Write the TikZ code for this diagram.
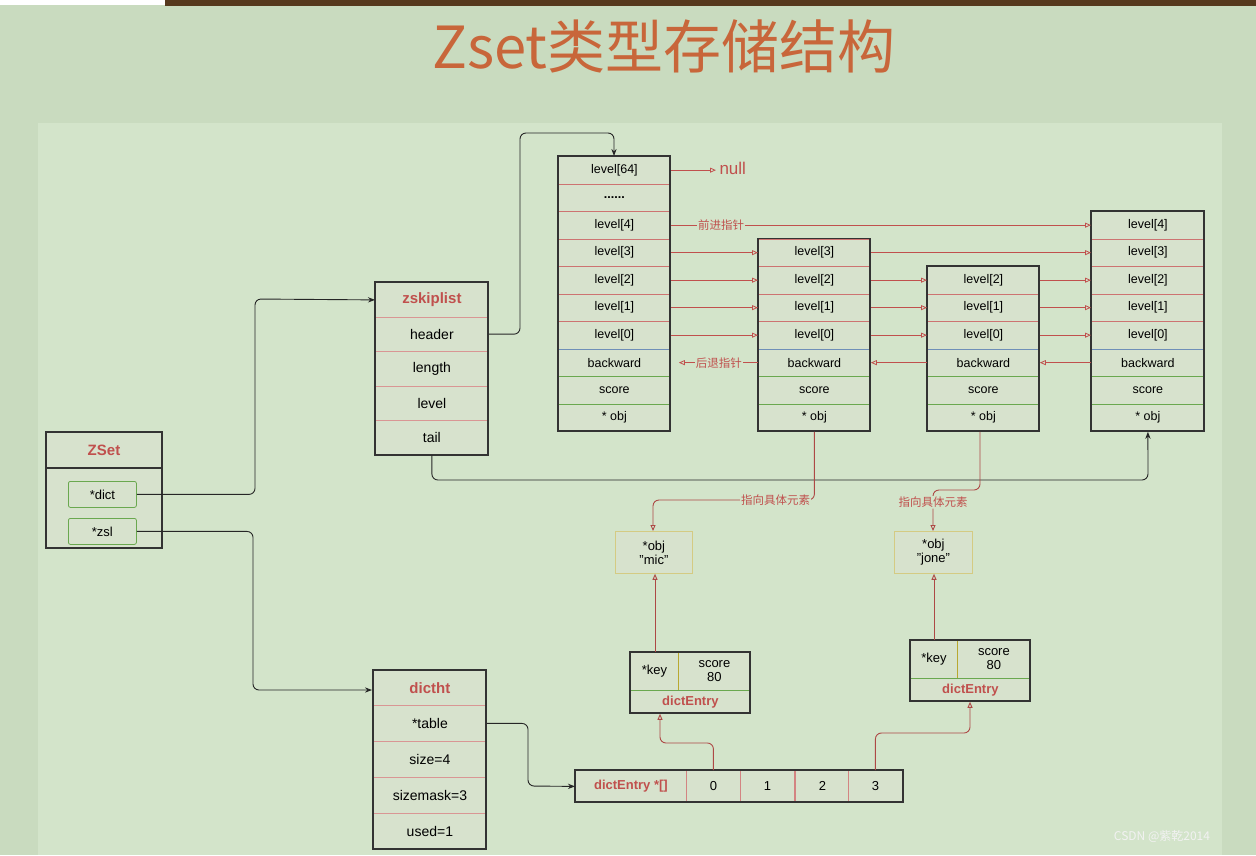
\documentclass[tikz,border=0pt]{standalone}
\usepackage{fontspec}
\setmainfont{Liberation Sans}
\newfontfamily\cjk{Noto Sans CJK SC}
\usetikzlibrary{arrows.meta, positioning, calc}
\definecolor{bgout}{HTML}{C9DBBF}
\definecolor{bgin}{HTML}{D3E4CA}
\definecolor{cellfill}{HTML}{D7E2CD}
\definecolor{redline}{HTML}{C0504D}
\definecolor{redtext}{HTML}{C0504D}
\definecolor{blueline}{HTML}{6F8FB8}
\definecolor{greenline}{HTML}{6AA84F}
\definecolor{titleor}{HTML}{C8663A}
\definecolor{yelline}{HTML}{B8A830}
\begin{document}
\begin{tikzpicture}[x=1pt, y=-1pt, >=Stealth, font=\fontsize{12.5}{14}\selectfont]
  \tikzset{
    cell/.style={draw=#1, line width=0.8pt, fill=cellfill, anchor=north west, inner sep=0pt, align=center},
    lvl/.style={cell=redline!80, minimum width=112pt, minimum height=27.5pt},
    bwd/.style={cell=blueline, minimum width=112pt, minimum height=27.5pt},
    grn/.style={cell=greenline, minimum width=112pt, minimum height=27.5pt},
    fld/.style={cell=redline!60, minimum width=113pt, minimum height=35pt, font=\fontsize{14}{16}\selectfont},
    ttl/.style={cell=greenline, minimum width=113pt, minimum height=35pt, font=\fontsize{15}{17}\selectfont\bfseries, text=redtext},
    fwd/.style={->, draw=redline, line width=0.8pt, -{Triangle[open, length=6pt, width=5pt]}},
    link/.style={->, draw=black!85, line width=0.9pt, rounded corners=6pt},
    rlink/.style={draw=redline!90!black, line width=0.9pt, rounded corners=6pt, -{Triangle[open, length=6pt, width=5pt]}},
    lbl/.style={text=redtext, font=\cjk\fontsize{11.5}{13}\selectfont, fill=bgin, inner sep=1pt},
    frame/.style={draw=black!80, line width=1.1pt}
  }
  % background
  \fill[bgout] (0,0) rectangle (1256,855);
  \fill[bgin] (38,123) rectangle (1222,855);
  \fill[black!55!brown] (165,0) rectangle (1256,6);
  \fill[white] (0,0) rectangle (165,5);
  \node[text=titleor, font=\cjk\fontsize{58}{62}\selectfont] (title) at (664,46) {Zset类型存储结构};

  % ZSet
  \draw[frame, fill=cellfill] (46,432) rectangle (162,548);
  \draw[frame] (46,468) -- (162,468);
  \node[text=redtext, font=\fontsize{15}{17}\selectfont\bfseries] (zset) at (104,450) {ZSet};
  \node[cell=greenline, rounded corners=2pt, minimum width=68pt, minimum height=26pt, font=\fontsize{13}{15}\selectfont] (dict) at (68,481) {*dict};
  \node[cell=greenline, rounded corners=2pt, minimum width=68pt, minimum height=26pt, font=\fontsize{13}{15}\selectfont] (zsl) at (68,518) {*zsl};

  % zskiplist
  \node[ttl] (zsk) at (375,282) {zskiplist};
  \foreach \lab/\nm [count=\i] in {header/zhd, length/zln, level/zlv, tail/ztl}
    \node[fld, minimum height=34.5pt] (\nm) at (375,282+\i*34.5) {\lab};
  \draw[frame] (375,282) rectangle (488,455);

  % skiplist header column
  \foreach \lab/\nm/\sty [count=\i from 0] in {level[64]/h64/lvl, \textbf{......}/hdt/lvl, level[4]/hl4/lvl, level[3]/hl3/lvl, level[2]/hl2/lvl, level[1]/hl1/lvl, level[0]/hl0/lvl, backward/hbw/bwd, score/hsc/grn, * obj/hob/grn}
    \node[\sty] (\nm) at (558,156+\i*27.5) {\lab};
  \draw[frame] (558,156) rectangle (670,431);

  % node a
  \foreach \lab/\nm/\sty [count=\i from 0] in {level[3]/al3/lvl, level[2]/al2/lvl, level[1]/al1/lvl, level[0]/al0/lvl, backward/abw/bwd, score/asc/grn, * obj/aob/grn}
    \node[\sty] (\nm) at (758,238.5+\i*27.5) {\lab};
  \draw[frame] (758,238.5) rectangle (870,431);

  % node b
  \foreach \lab/\nm/\sty [count=\i from 0] in {level[2]/bl2/lvl, level[1]/bl1/lvl, level[0]/bl0/lvl, backward/bbw/bwd, score/bsc/grn, * obj/bob/grn}
    \node[\sty] (\nm) at (927,266+\i*27.5) {\lab};
  \draw[frame] (927,266) rectangle (1039,431);

  % node c
  \foreach \lab/\nm/\sty [count=\i from 0] in {level[4]/cl4/lvl, level[3]/cl3/lvl, level[2]/cl2/lvl, level[1]/cl1/lvl, level[0]/cl0/lvl, backward/cbw/bwd, score/csc/grn, * obj/cob/grn}
    \node[\sty, minimum width=113pt] (\nm) at (1091,211+\i*27.5) {\lab};
  \draw[frame] (1091,211) rectangle (1204,431);

  % forward pointers
  \node[text=redtext, font=\fontsize{17}{19}\selectfont, anchor=west] (null) at (716,168) {null};
  \draw[fwd] (h64.east) -- (h64.east -| null.west);
  \draw[fwd] (hl4.east) -- node[lbl, pos=0.12] {前进指针} (cl4.west);
  \draw[fwd] (hl3.east) -- (al3.west);
  \draw[fwd] (al3.east) -- (cl3.west);
  \foreach \k in {2,1,0} {
    \draw[fwd] (hl\k.east) -- (al\k.west);
    \draw[fwd] (al\k.east) -- (bl\k.west);
    \draw[fwd] (bl\k.east) -- (cl\k.west);
  }
  % backward pointers
  \draw[fwd, shorten >=8pt] (abw.west) -- node[lbl, pos=0.45] {后退指针} (hbw.east);
  \draw[fwd] (bbw.west) -- (abw.east);
  \draw[fwd] (cbw.west) -- (bbw.east);

  % black links
  \draw[link] (dict.east) -| (255,299) -- (zsk.west);
  \draw[link] (zsl.east) -| (253,690) -- (372,690);
  \draw[link] (zhd.east) -| (520,133) -| (614,156);
  \draw[link] (ztl.south) |- (1148,480) -- (cob.south);

  % dictht
  \node[ttl] (dht) at (373,670) {dictht};
  \foreach \lab/\nm [count=\i] in {*table/dtb, size=4/dsz, sizemask=3/dsm, used=1/dus}
    \node[fld, minimum height=36pt, minimum width=113pt] (\nm) at (373,669+\i*36) {\lab};
  \draw[frame] (373,670) rectangle (486,849);

  % dictEntry array
  \node[cell=greenline, minimum width=111pt, minimum height=32pt, font=\fontsize{13}{15}\selectfont\bfseries, text=redtext] (arr) at (575,770) {dictEntry *[]};
  \foreach \k/\x in {0/686, 1/740, 2/795, 3/848}
    \node[cell=redline!70, minimum width=54pt, minimum height=32pt, font=\fontsize{13}{15}\selectfont] (e\k) at (\x,770) {\k};
  \draw[frame] (575,770) rectangle (903,802);
  \draw[link] (dtb.east) -| (528,786) -- (arr.west);

  % dict entries
  \node[cell=yelline, minimum width=48pt, minimum height=38pt, font=\fontsize{13}{15}\selectfont] (k1) at (630,652) {*key};
  \node[cell=yelline, minimum width=72pt, minimum height=38pt, font=\fontsize{13}{14}\selectfont] (s1) at (678,652) {score\\80};
  \node[cell=greenline, minimum width=120pt, minimum height=23pt, font=\fontsize{13}{15}\selectfont\bfseries, text=redtext] (de1) at (630,690) {dictEntry};
  \draw[frame] (630,652) rectangle (750,713);
  \node[cell=yelline, minimum width=47pt, minimum height=38pt, font=\fontsize{13}{15}\selectfont] (k2) at (910,640) {*key};
  \node[cell=yelline, minimum width=73pt, minimum height=38pt, font=\fontsize{13}{14}\selectfont] (s2) at (957,640) {score\\80};
  \node[cell=greenline, minimum width=120pt, minimum height=23pt, font=\fontsize{13}{15}\selectfont\bfseries, text=redtext] (de2) at (910,678) {dictEntry};
  \draw[frame] (910,640) rectangle (1030,701);

  % objects
  \node[cell=yelline!60, minimum width=77pt, minimum height=42pt, font=\fontsize{13}{14}\selectfont] (o1) at (615,531) {*obj\\"mic"};
  \node[cell=yelline!60, minimum width=78pt, minimum height=42pt, font=\fontsize{13}{14}\selectfont] (o2) at (894,531) {*obj\\"jone"};

  % red links
  \draw[rlink] (e0.north) |- (660,743) -- (de1.south -| 660,0);
  \draw[rlink] (e3.north) |- (970,733) -- (de2.south -| 970,0);
  \draw[rlink] (k1.north -| 655,0) -- (o1.south -| 655,0);
  \draw[rlink] (k2.north -| 934,0) -- (o2.south -| 934,0);
  \draw[rlink] (aob.south) |- node[lbl, pos=0.62] {指向具体元素} (653,500) -- (o1.north -| 653,0);
  \draw[rlink] (bob.south -| 980,0) |- (933,490) -- node[lbl, pos=0.3] {指向具体元素} (o2.north -| 933,0);

  \node[text=white!90!gray, font=\cjk\fontsize{12}{14}\selectfont] (csdn) at (1162,836) {CSDN @紫乾2014};
\end{tikzpicture}
\end{document}
